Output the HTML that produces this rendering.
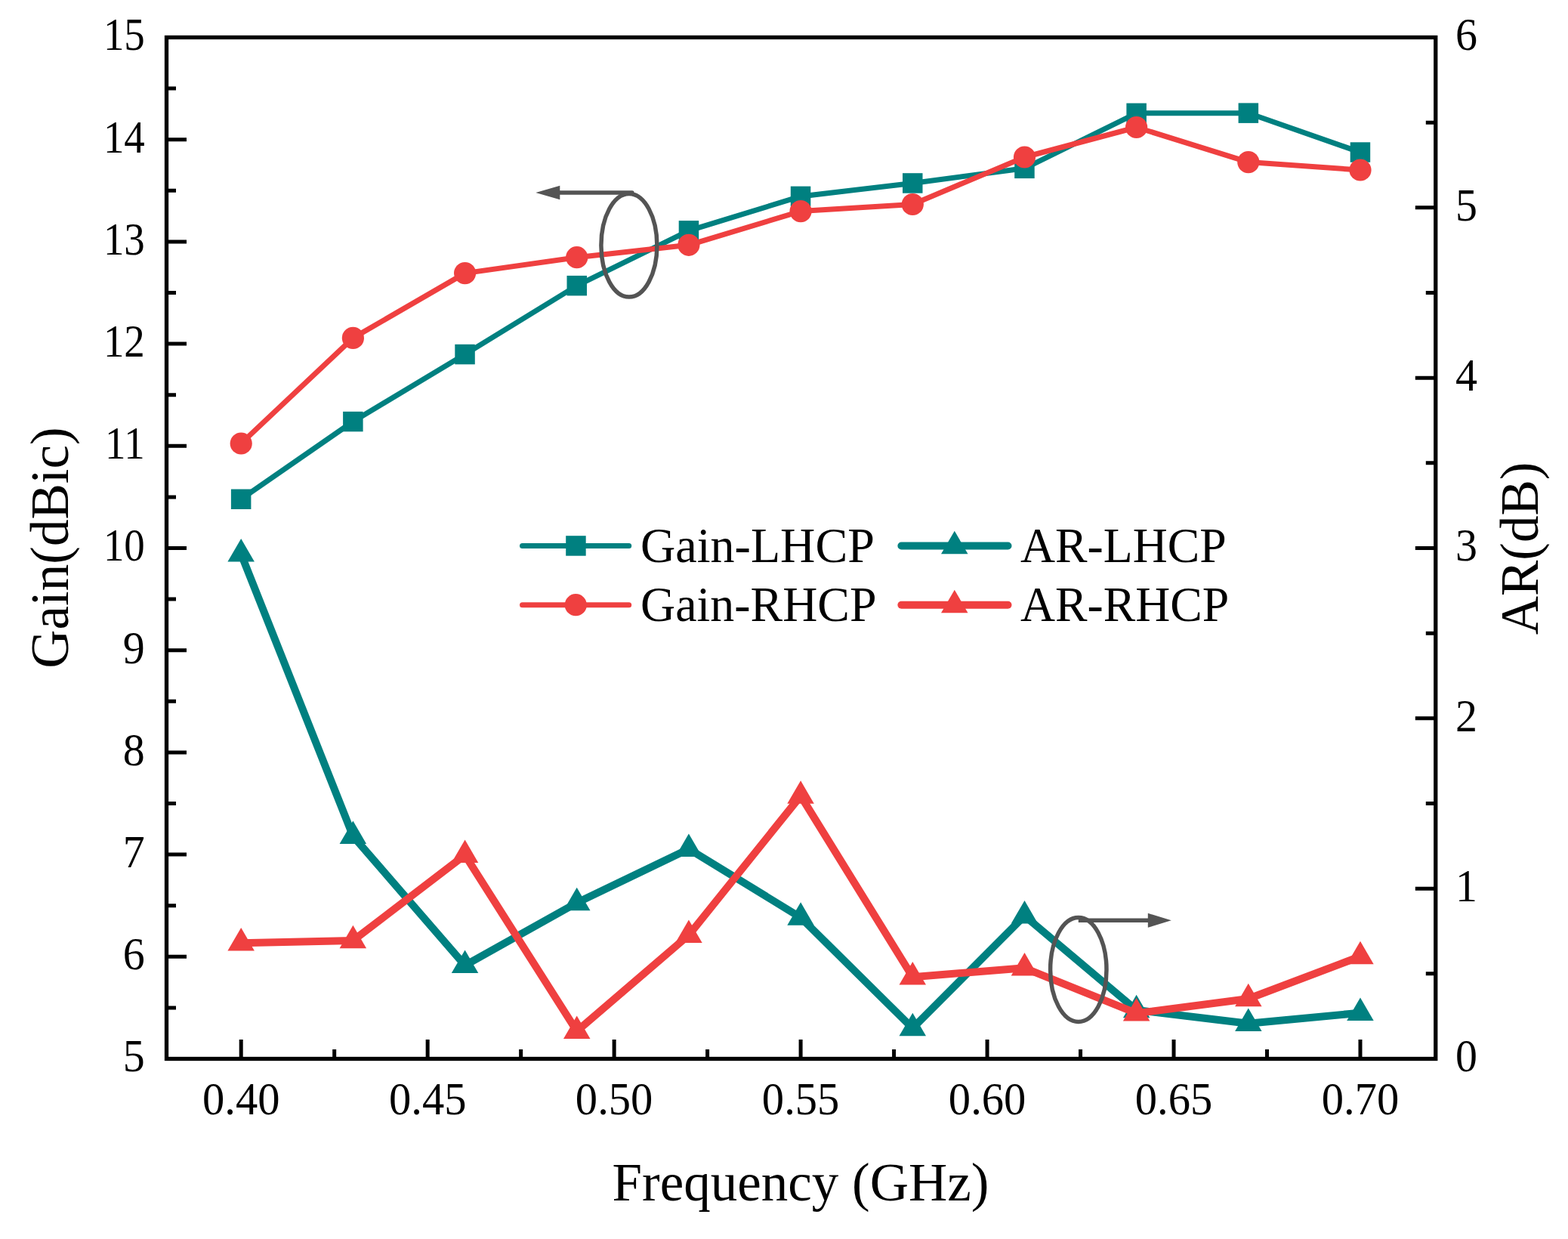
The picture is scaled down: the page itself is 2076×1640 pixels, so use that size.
<!DOCTYPE html>
<html><head><meta charset="utf-8"><title>Gain and AR vs Frequency</title>
<style>html,body{margin:0;padding:0;background:#fff;overflow:hidden;}svg{display:block;}</style>
</head><body>
<svg width="2076" height="1640" viewBox="0 0 2076 1640" font-family="'Liberation Serif','Times New Roman',serif">
<rect width="2076" height="1640" fill="#fff"/>
<path d="M220.5 1401.50H247.0M220.5 1333.90H233.0M220.5 1266.30H247.0M220.5 1198.70H233.0M220.5 1131.10H247.0M220.5 1063.50H233.0M220.5 995.90H247.0M220.5 928.30H233.0M220.5 860.70H247.0M220.5 793.10H233.0M220.5 725.50H247.0M220.5 657.90H233.0M220.5 590.30H247.0M220.5 522.70H233.0M220.5 455.10H247.0M220.5 387.50H233.0M220.5 319.90H247.0M220.5 252.30H233.0M220.5 184.70H247.0M220.5 117.10H233.0M220.5 49.50H247.0M1900.75 1401.50H1873.8M1900.75 1288.83H1887.8M1900.75 1176.17H1873.8M1900.75 1063.50H1887.8M1900.75 950.83H1873.8M1900.75 838.17H1887.8M1900.75 725.50H1873.8M1900.75 612.83H1887.8M1900.75 500.17H1873.8M1900.75 387.50H1887.8M1900.75 274.83H1873.8M1900.75 162.17H1887.8M1900.75 49.50H1873.8M319.20 1401.5V1376.0M442.68 1401.5V1389.0M566.16 1401.5V1376.0M689.65 1401.5V1389.0M813.13 1401.5V1376.0M936.61 1401.5V1389.0M1060.10 1401.5V1376.0M1183.58 1401.5V1389.0M1307.06 1401.5V1376.0M1430.54 1401.5V1389.0M1554.03 1401.5V1376.0M1677.51 1401.5V1389.0M1800.99 1401.5V1376.0" stroke="#000" stroke-width="5" fill="none"/>
<rect x="220.50" y="49.50" width="1680.25" height="1352.00" fill="none" stroke="#000" stroke-width="5.3"/>
<polyline points="319.2,660.7 467.4,558.0 615.6,469.0 763.7,378.2 911.9,305.3 1060.1,259.9 1208.3,242.4 1356.5,222.8 1504.6,149.8 1652.8,149.7 1801.0,201.6" fill="none" stroke="#008080" stroke-width="7" stroke-linejoin="round"/>
<g fill="#008080"><rect x="305.9" y="647.5" width="26.5" height="26.5"/><rect x="454.1" y="544.8" width="26.5" height="26.5"/><rect x="602.3" y="455.8" width="26.5" height="26.5"/><rect x="750.5" y="364.9" width="26.5" height="26.5"/><rect x="898.7" y="292.1" width="26.5" height="26.5"/><rect x="1046.8" y="246.6" width="26.5" height="26.5"/><rect x="1195.0" y="229.2" width="26.5" height="26.5"/><rect x="1343.2" y="209.6" width="26.5" height="26.5"/><rect x="1491.4" y="136.6" width="26.5" height="26.5"/><rect x="1639.6" y="136.4" width="26.5" height="26.5"/><rect x="1787.7" y="188.3" width="26.5" height="26.5"/></g>
<polyline points="319.2,587.0 467.4,447.4 615.6,361.6 763.7,340.7 911.9,324.3 1060.1,279.6 1208.3,270.5 1356.5,208.0 1504.6,168.5 1652.8,214.6 1801.0,225.0" fill="none" stroke="#EF4040" stroke-width="7" stroke-linejoin="round"/>
<g fill="#EF4040"><circle cx="319.2" cy="587.0" r="14.6"/><circle cx="467.4" cy="447.4" r="14.6"/><circle cx="615.6" cy="361.6" r="14.6"/><circle cx="763.7" cy="340.7" r="14.6"/><circle cx="911.9" cy="324.3" r="14.6"/><circle cx="1060.1" cy="279.6" r="14.6"/><circle cx="1208.3" cy="270.5" r="14.6"/><circle cx="1356.5" cy="208.0" r="14.6"/><circle cx="1504.6" cy="168.5" r="14.6"/><circle cx="1652.8" cy="214.6" r="14.6"/><circle cx="1801.0" cy="225.0" r="14.6"/></g>
<polyline points="319.2,733.4 467.4,1106.7 615.6,1277.8 763.7,1195.0 911.9,1123.8 1060.1,1214.5 1208.3,1361.0 1356.5,1212.2 1504.6,1337.0 1652.8,1354.7 1801.0,1340.7" fill="none" stroke="#008080" stroke-width="10" stroke-linejoin="round"/>
<polygon points="319.2,713.1 336.9,743.6 301.4,743.6" fill="#008080"/><polygon points="467.4,1086.4 485.1,1116.9 449.6,1116.9" fill="#008080"/><polygon points="615.6,1257.5 633.3,1288.0 597.8,1288.0" fill="#008080"/><polygon points="763.7,1174.7 781.5,1205.2 746.0,1205.2" fill="#008080"/><polygon points="911.9,1103.5 929.7,1134.0 894.2,1134.0" fill="#008080"/><polygon points="1060.1,1194.2 1077.8,1224.7 1042.3,1224.7" fill="#008080"/><polygon points="1208.3,1340.7 1226.0,1371.2 1190.5,1371.2" fill="#008080"/><polygon points="1356.5,1191.9 1374.2,1222.4 1338.7,1222.4" fill="#008080"/><polygon points="1504.6,1316.7 1522.4,1347.2 1486.9,1347.2" fill="#008080"/><polygon points="1652.8,1334.4 1670.6,1364.9 1635.1,1364.9" fill="#008080"/><polygon points="1801.0,1320.4 1818.7,1350.9 1783.2,1350.9" fill="#008080"/>
<polyline points="319.2,1248.2 467.4,1245.0 615.6,1131.8 763.7,1364.9 911.9,1237.8 1060.1,1053.5 1208.3,1293.2 1356.5,1281.3 1504.6,1341.2 1652.8,1322.0 1801.0,1266.0" fill="none" stroke="#EF4040" stroke-width="10" stroke-linejoin="round"/>
<polygon points="319.2,1227.9 336.9,1258.4 301.4,1258.4" fill="#EF4040"/><polygon points="467.4,1224.7 485.1,1255.2 449.6,1255.2" fill="#EF4040"/><polygon points="615.6,1111.5 633.3,1142.0 597.8,1142.0" fill="#EF4040"/><polygon points="763.7,1344.6 781.5,1375.1 746.0,1375.1" fill="#EF4040"/><polygon points="911.9,1217.5 929.7,1248.0 894.2,1248.0" fill="#EF4040"/><polygon points="1060.1,1033.2 1077.8,1063.7 1042.3,1063.7" fill="#EF4040"/><polygon points="1208.3,1272.9 1226.0,1303.4 1190.5,1303.4" fill="#EF4040"/><polygon points="1356.5,1261.0 1374.2,1291.5 1338.7,1291.5" fill="#EF4040"/><polygon points="1504.6,1320.9 1522.4,1351.4 1486.9,1351.4" fill="#EF4040"/><polygon points="1652.8,1301.7 1670.6,1332.2 1635.1,1332.2" fill="#EF4040"/><polygon points="1801.0,1245.7 1818.7,1276.2 1783.2,1276.2" fill="#EF4040"/>
<ellipse cx="832.9" cy="324.8" rx="37.0" ry="68.3" fill="none" stroke="#545454" stroke-width="5.5"/><path d="M836.9 255.0H740.3" stroke="#545454" stroke-width="5.5" stroke-linecap="round"/><polygon points="709.3,255.0 741.3,245.8 741.3,264.2" fill="#545454"/>
<ellipse cx="1427.8" cy="1283.5" rx="37.2" ry="69.0" fill="none" stroke="#545454" stroke-width="5.5"/><path d="M1427.8 1218.3H1520.8" stroke="#545454" stroke-width="5.5"/><polygon points="1550.8,1218.3 1519.8,1208.8 1519.8,1227.8" fill="#545454"/>
<path d="M691.5 722.5H832.7" stroke="#008080" stroke-width="7" stroke-linecap="round"/>
<rect x="749.2" y="709.2" width="26.5" height="26.5" fill="#008080"/>
<path d="M691.5 800.7H832.7" stroke="#EF4040" stroke-width="7" stroke-linecap="round"/>
<circle cx="762.3" cy="800.7" r="14.6" fill="#EF4040"/>
<path d="M1193.4 722.5H1334.5" stroke="#008080" stroke-width="10" stroke-linecap="round"/>
<polygon points="1263.8,702.7 1281.5,733.2 1246.0,733.2" fill="#008080"/>
<path d="M1193.4 800.7H1334.5" stroke="#EF4040" stroke-width="10" stroke-linecap="round"/>
<polygon points="1263.8,780.7 1281.5,811.2 1246.0,811.2" fill="#EF4040"/>
<g font-size="64.5" fill="#000">
<text transform="translate(848 743.6) scale(0.994 1)">Gain-LHCP</text>
<text transform="translate(848 821.8) scale(0.991 1)">Gain-RHCP</text>
<text transform="translate(1351 743.6) scale(0.988 1)">AR-LHCP</text>
<text transform="translate(1351 821.8) scale(0.988 1)">AR-RHCP</text>
</g>
<g font-size="61" fill="#000" text-anchor="end">
<text transform="translate(191.8 1418.3) scale(0.95 1)">5</text>
<text transform="translate(191.8 1283.1) scale(0.95 1)">6</text>
<text transform="translate(191.8 1147.9) scale(0.95 1)">7</text>
<text transform="translate(191.8 1012.7) scale(0.95 1)">8</text>
<text transform="translate(191.8 877.5) scale(0.95 1)">9</text>
<text transform="translate(191.8 742.3) scale(0.9 1)">10</text>
<text transform="translate(191.8 607.1) scale(0.9 1)">11</text>
<text transform="translate(191.8 471.9) scale(0.9 1)">12</text>
<text transform="translate(191.8 336.7) scale(0.9 1)">13</text>
<text transform="translate(191.8 201.5) scale(0.9 1)">14</text>
<text transform="translate(191.8 66.3) scale(0.9 1)">15</text>
</g>
<g font-size="61" fill="#000" text-anchor="start">
<text transform="translate(1927 1418.3) scale(0.95 1)">0</text>
<text transform="translate(1927 1193.0) scale(0.95 1)">1</text>
<text transform="translate(1927 967.6) scale(0.95 1)">2</text>
<text transform="translate(1927 742.3) scale(0.95 1)">3</text>
<text transform="translate(1927 517.0) scale(0.95 1)">4</text>
<text transform="translate(1927 291.6) scale(0.95 1)">5</text>
<text transform="translate(1927 66.3) scale(0.95 1)">6</text>
</g>
<g font-size="61" fill="#000" text-anchor="middle">
<text transform="translate(319.2 1475.2) scale(0.96 1)">0.40</text>
<text transform="translate(566.2 1475.2) scale(0.96 1)">0.45</text>
<text transform="translate(813.1 1475.2) scale(0.96 1)">0.50</text>
<text transform="translate(1060.1 1475.2) scale(0.96 1)">0.55</text>
<text transform="translate(1307.1 1475.2) scale(0.96 1)">0.60</text>
<text transform="translate(1554.0 1475.2) scale(0.96 1)">0.65</text>
<text transform="translate(1801.0 1475.2) scale(0.96 1)">0.70</text>
</g>
<g font-size="71" fill="#000" text-anchor="middle">
<text x="1060" y="1589.3">Frequency (GHz)</text>
<text transform="translate(89.5 725) rotate(-90)" x="0" y="0">Gain(dBic)</text>
<text transform="translate(2035.6 725.9) rotate(-90)" x="0" y="0">AR(dB)</text>
</g>
</svg>
</body></html>
